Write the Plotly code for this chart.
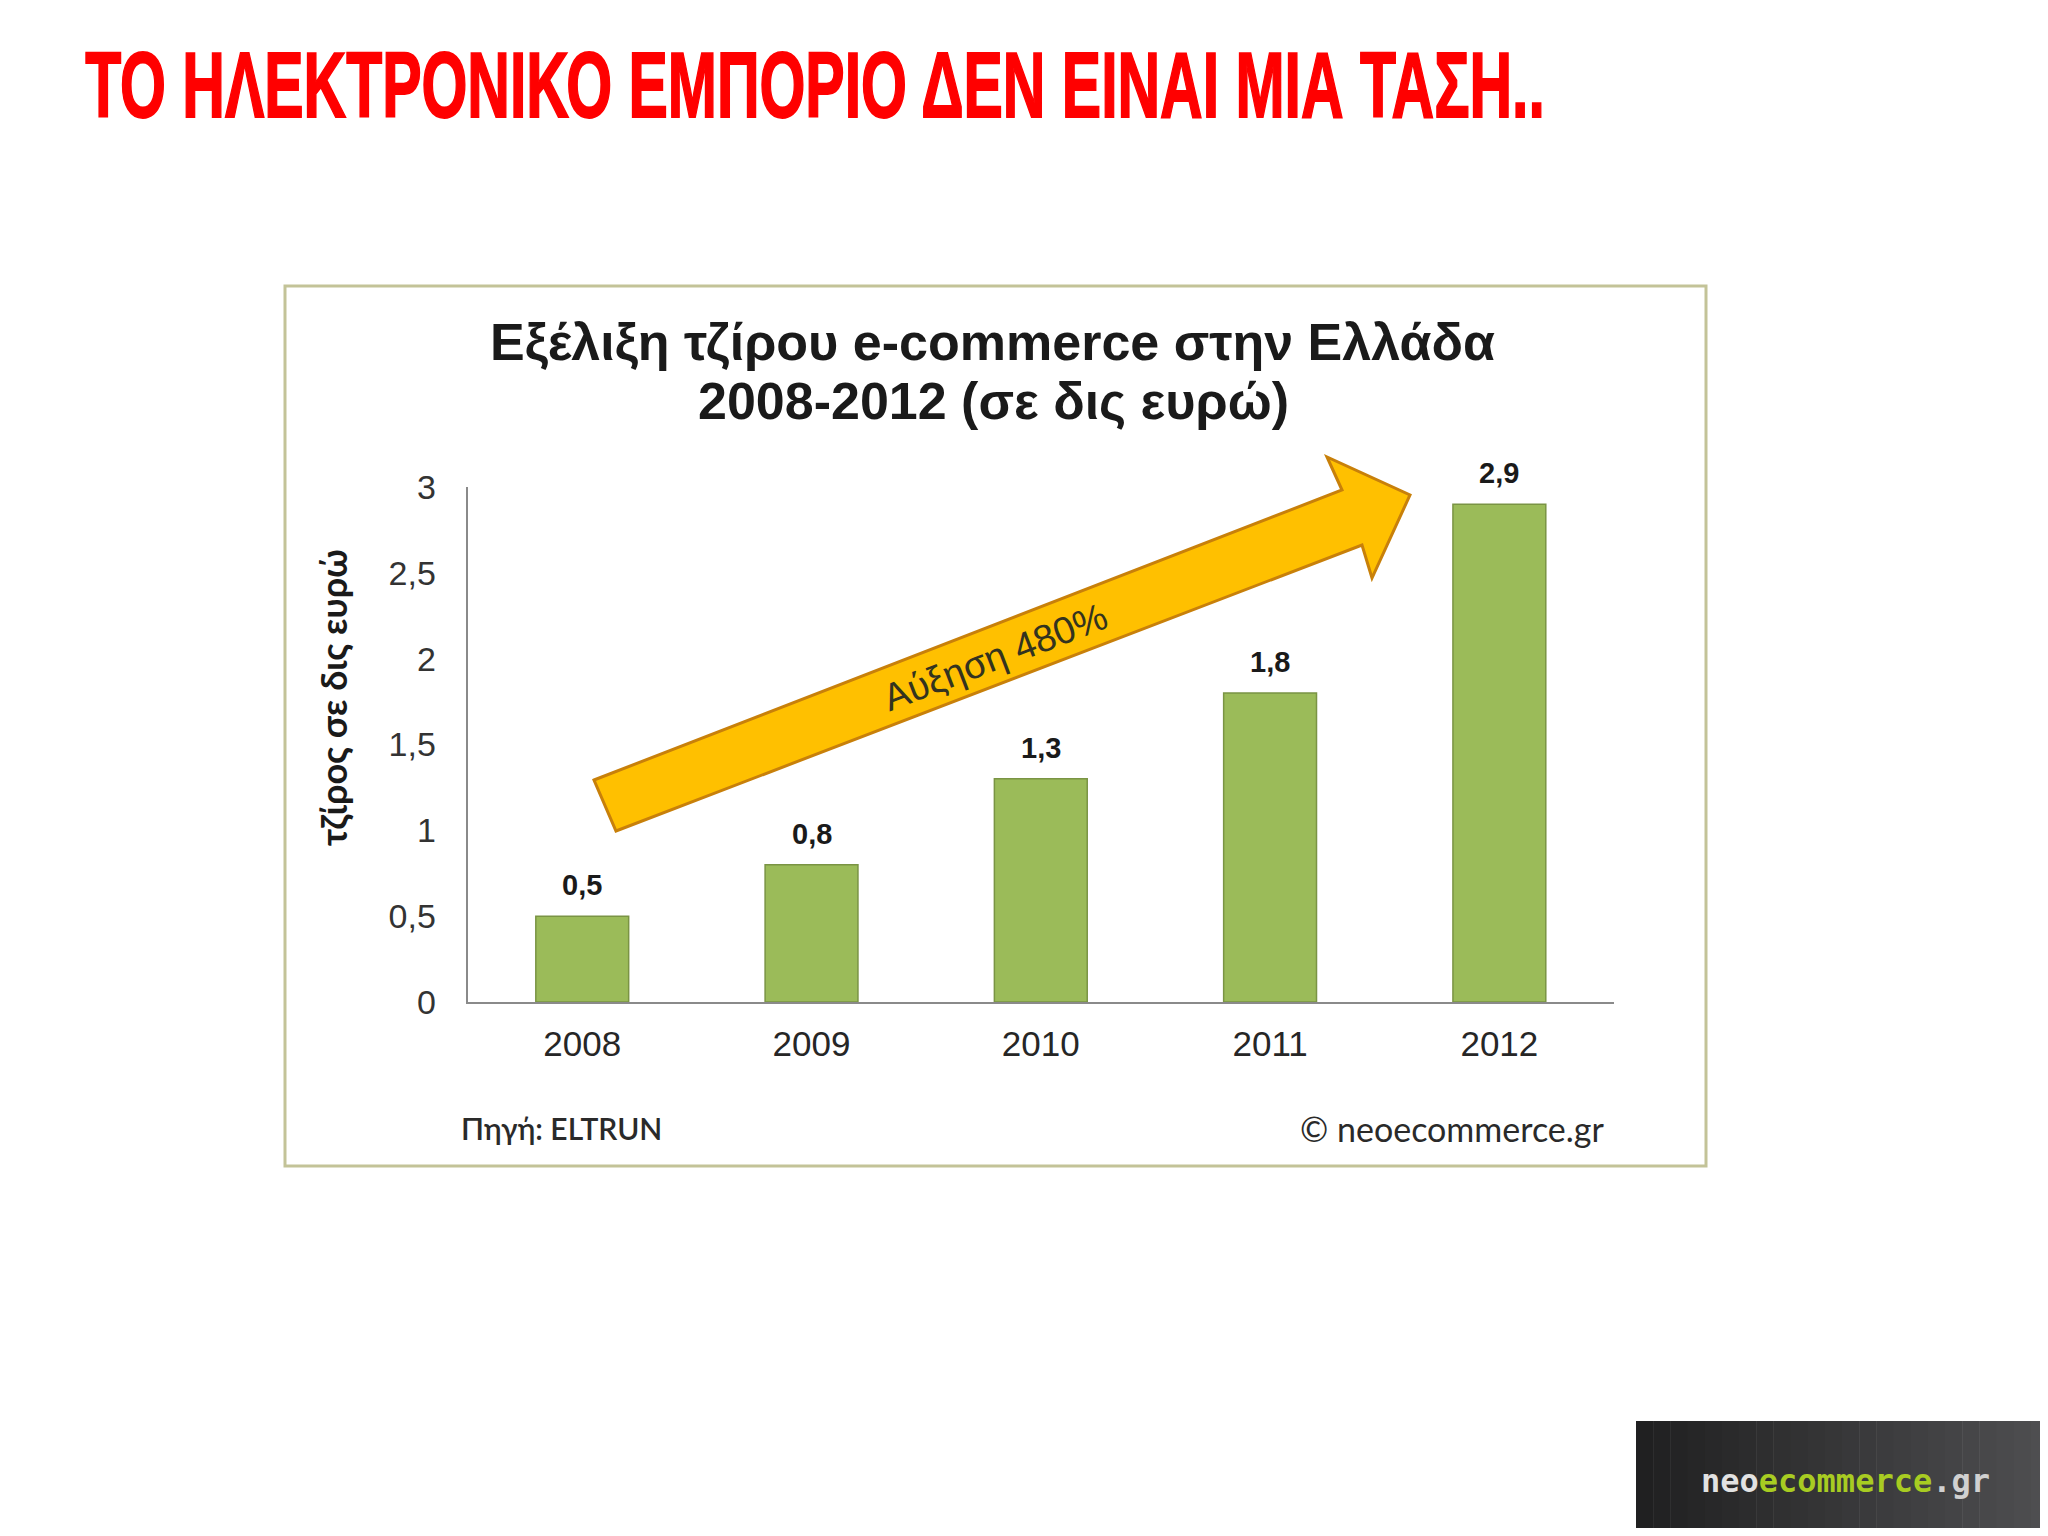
import plotly.graph_objects as go

# ---------------- data ----------------
years = ["2008", "2009", "2010", "2011", "2012"]
turnover = [0.5, 0.8, 1.3, 1.8, 2.9]
value_labels = ["0,5", "0,8", "1,3", "1,8", "2,9"]
y_tick_vals = [0, 0.5, 1, 1.5, 2, 2.5, 3]
y_tick_text = ["0", "0,5", "1", "1,5", "2", "2,5", "3"]

slide_title = "ΤΟ ΗΛΕΚΤΡΟΝΙΚΟ ΕΜΠΟΡΙΟ ΔΕΝ ΕΙΝΑΙ ΜΙΑ ΤΑΣΗ.."
chart_title_1 = "Εξέλιξη τζίρου e-commerce στην Ελλάδα"
chart_title_2 = "2008-2012 (σε δις ευρώ)"
y_axis_title = "τζίρος σε δις ευρώ"
arrow_label = "Αύξηση 480%"
source_text = "Πηγή: ELTRUN"
copyright_text = "© neoecommerce.gr"

# ---------------- geometry helpers (image pixels -> paper) ----------------
W, H, OFF = 2032, 1520, 8


def px(x):
    return (x - OFF) / W


def py(y):
    return 1 - (y - OFF) / H


ARIAL = "Liberation Sans, Arial, sans-serif"
CALIBRI = "Lato, Noto Sans, sans-serif"

fig = go.Figure()

fig.add_trace(go.Bar(
    x=years, y=turnover,
    width=0.405,
    marker=dict(color="#9BBB59", line=dict(color="#7A9444", width=1.5)),
    hoverinfo="skip",
    showlegend=False,
))

shapes = []
# chart frame
shapes.append(dict(type="rect", xref="paper", yref="paper",
                   x0=px(285), x1=px(1706), y0=py(1166), y1=py(286),
                   line=dict(color="#C3C398", width=3), fillcolor="white", layer="below"))

# arrow
pts = [(594, 780), (1342, 490), (1327, 457), (1410, 495), (1372, 578), (1362, 545), (616, 831)]
path = "M " + " L ".join(f"{px(x):.5f},{py(y):.5f}" for x, y in pts) + " Z"
shapes.append(dict(type="path", xref="paper", yref="paper", path=path,
                   fillcolor="#FFC000", line=dict(color="#C8800A", width=3), layer="above"))

# logo box with horizontal gradient
n_bands = 24
x_start, x_end = 1636, 2048
c0 = (32, 32, 33)
c1 = (78, 78, 80)
for i in range(n_bands):
    t = i / (n_bands - 1)
    col = tuple(int(round(a + (b - a) * t)) for a, b in zip(c0, c1))
    xa = x_start + (x_end - x_start) * i / n_bands
    xb = x_start + (x_end - x_start) * (i + 1) / n_bands + 0.5
    shapes.append(dict(type="rect", xref="paper", yref="paper",
                       x0=px(xa), x1=px(xb), y0=py(1536), y1=py(1421),
                       line=dict(width=0), fillcolor=f"rgb{col}", layer="below"))

annotations = []
# slide title (index 0 - stretched in post script)
annotations.append(dict(
    text=slide_title, xref="paper", yref="paper", x=px(83), y=py(85),
    xanchor="left", yanchor="middle", showarrow=False,
    font=dict(family="Liberation Sans, Arial, sans-serif",
              size=60, color="#FF0000", weight="bold")))
# chart titles
annotations.append(dict(
    text=chart_title_1, xref="paper", yref="paper", x=px(992), y=py(342),
    xanchor="center", yanchor="middle", showarrow=False,
    font=dict(family=ARIAL, size=52, color="#1A1A1A", weight="bold")))
annotations.append(dict(
    text=chart_title_2, xref="paper", yref="paper", x=px(993), y=py(401),
    xanchor="center", yanchor="middle", showarrow=False,
    font=dict(family=ARIAL, size=52, color="#1A1A1A", weight="bold")))
# y axis title
annotations.append(dict(
    text=y_axis_title, xref="paper", yref="paper", x=px(333), y=py(698),
    xanchor="center", yanchor="middle", showarrow=False, textangle=-90,
    font=dict(family=CALIBRI, size=36, color="#1A1A1A", weight="bold")))
# value labels
for i, (v, lab) in enumerate(zip(turnover, value_labels)):
    annotations.append(dict(
        text=lab, x=i, y=v, xref="x", yref="y",
        xanchor="center", yanchor="bottom", yshift=13, showarrow=False,
        font=dict(family=ARIAL, size=29, color="#1A1A1A", weight="bold")))
# arrow label
annotations.append(dict(
    text=arrow_label, xref="paper", yref="paper", x=px(995), y=py(657),
    xanchor="center", yanchor="middle", showarrow=False, textangle=-21,
    font=dict(family=ARIAL, size=38, color="#33331F")))
# footer texts
annotations.append(dict(
    text=source_text, xref="paper", yref="paper", x=px(459), y=py(1128),
    xanchor="left", yanchor="middle", showarrow=False,
    font=dict(family=CALIBRI, size=30, color="#2A2A2A", weight=600)))
annotations.append(dict(
    text=copyright_text, xref="paper", yref="paper", x=px(1606), y=py(1128),
    xanchor="right", yanchor="middle", showarrow=False,
    font=dict(family=CALIBRI, size=34, color="#2A2A2A")))
# logo text
annotations.append(dict(
    text="<span style='color:#E2E2E2'>neo</span><span style='color:#A8CC22'>ecommerce</span><span style='color:#D0D0D0'>.gr</span>",
    xref="paper", yref="paper", x=px(1845), y=py(1481),
    xanchor="center", yanchor="middle", showarrow=False,
    font=dict(family="DejaVu Sans Mono, monospace", size=32, weight="bold")))

fig.update_layout(
    width=W, height=H,
    margin=dict(l=0, r=0, t=0, b=0, autoexpand=False),
    paper_bgcolor="white", plot_bgcolor="rgba(0,0,0,0)",
    showlegend=False,
    xaxis=dict(
        domain=[px(467.6), px(1614)],
        type="category",
        range=[-0.5, len(years) - 0.5],
        automargin=False,
        showline=True, linecolor="#8A8A8A", linewidth=2,
        showgrid=False, zeroline=False, ticks="",
        tickfont=dict(family=ARIAL, size=35, color="#262626"),
        ticklabelstandoff=10,
        fixedrange=True,
    ),
    yaxis=dict(
        domain=[py(1002), py(487)],
        range=[0, 3],
        automargin=False,
        showline=True, linecolor="#8A8A8A", linewidth=2,
        showgrid=False, zeroline=False, ticks="",
        tickvals=y_tick_vals, ticktext=y_tick_text,
        tickfont=dict(family=ARIAL, size=34, color="#333333"),
        ticklabelstandoff=23,
        fixedrange=True,
    ),
    shapes=shapes,
    annotations=annotations,
)

post = """
var gd = document.getElementById('{plot_id}');
var t = gd.querySelector('.annotation[data-index="0"] text.annotation-text');
if (t) {
  var bb = t.getBBox();
  var sx = 1460 / bb.width;
  t.style.transformBox = 'fill-box';
  t.style.transformOrigin = '0% 50%';
  t.style.transform = 'scale(' + sx + ',1.53)';
  t.style.stroke = '#FF0000';
  t.style.strokeWidth = '1.2px';
}
"""

fig.write_html("out.html", post_script=post)
